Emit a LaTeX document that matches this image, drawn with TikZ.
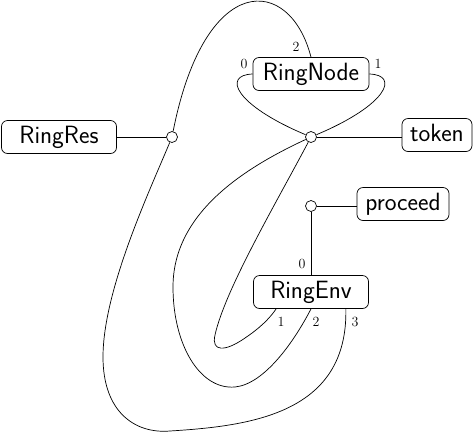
\documentclass[tikz,border=0pt]{standalone}
\tikzset{
  box/.style={draw, rounded corners=6pt, font=\sffamily\fontsize{25}{29}\selectfont,
    text height=17pt, text depth=5pt, inner xsep=6pt, inner ysep=5.5pt},
  junc/.style={draw, circle, inner sep=0pt, minimum size=11pt},
  portlbl/.style={font=\rmfamily\fontsize{14}{16}\selectfont, inner sep=0pt},
}
\begin{document}
\begin{tikzpicture}[x=1pt,y=-1pt,line width=.7pt]
  \useasboundingbox (0,0) rectangle (474,432);
  % boxes
  \node[box, minimum width=115pt] (res) at (59,137) {RingRes};
  \node[box, minimum width=116pt] (rn) at (311,74) {RingNode};
  \node[box, minimum width=70pt] (tok) at (437,135) {token};
  \node[box, minimum width=92pt] (proc) at (403,204) {proceed};
  \node[box, minimum width=115pt] (re) at (311,292) {RingEnv};
  % junctions
  \node[junc] (j1) at (172,137) {};
  \node[junc] (j2) at (311,137) {};
  \node[junc] (j3) at (311,206) {};
  % ports of RingEnv
  \coordinate (re1) at ([xshift=23pt]re.south west);
  \coordinate (re2) at (re.south);
  \coordinate (re3) at ([xshift=-23pt]re.south east);
  % port labels
  \node[portlbl] (rnl0) at (244,64) {0};
  \node[portlbl] (rnl1) at (378,64) {1};
  \node[portlbl] (rnl2) at (296,47) {2};
  \node[portlbl] (rel0) at (302,264) {0};
  \node[portlbl] (rel1) at (281,322) {1};
  \node[portlbl] (rel2) at (316,322) {2};
  \node[portlbl] (rel3) at (355,322) {3};

  % straight wires
  \draw (res.east) -- (j1);
  \draw (j2) -- (j2 -| tok.west);
  \draw (j3) -- (j3 -| proc.west);
  \draw (j3) -- (re.north);

  % RingNode loops
  \draw (rn.west) .. controls (222,75) and (235,105) .. (j2);
  \draw (rn.east) .. controls (400,75) and (387,105) .. (j2);
  \draw (rn.north) .. controls (290,-25) and (205,-30) .. (j1);

  % outer wire
  \draw (j1) .. controls (150,190) and (103,290) .. (103,357)
             .. controls (103,412) and (135,434) .. (170,431)
             .. controls (250,426) and (348,414) .. (re3);
  % middle wire
  \draw (j2) .. controls (240,170) and (173,215) .. (173,287)
             .. controls (173,345) and (200,390) .. (235,387)
             .. controls (265,384) and (295,340) .. (re2);
  % inner wire
  \draw (j2) .. controls (275,205) and (225,290) .. (215,335)
             .. controls (211,352) and (225,352) .. (245,338)
             .. controls (260,328) and (270,318) .. (re1);
\end{tikzpicture}
\end{document}
